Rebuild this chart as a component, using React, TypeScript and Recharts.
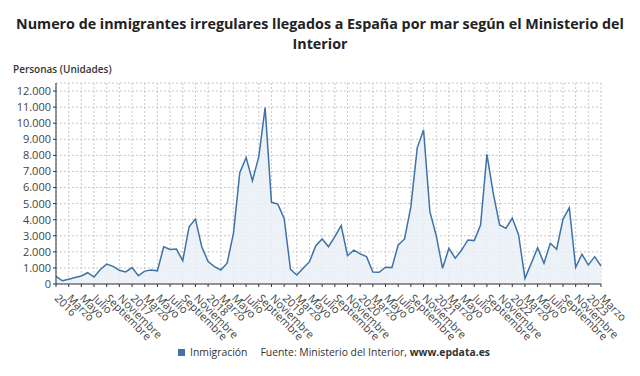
import React from "react";
import { AreaChart, Area, XAxis, YAxis, CartesianGrid } from "recharts";

const years = ["2016", "2017", "2018", "2019", "2020", "2021", "2022", "2023"];
const monthNames = ["Enero", "Febrero", "Marzo", "Abril", "Mayo", "Junio", "Julio", "Agosto", "Septiembre", "Octubre", "Noviembre", "Diciembre"];

const immigration = [
  480, 200, 300, 400, 500, 700, 430, 900, 1240, 1100, 850, 750,
  1020, 520, 800, 870, 820, 2320, 2150, 2170, 1450, 3560, 4040, 2320,
  1390, 1080, 870, 1290, 3150, 6920, 7860, 6420, 7920, 10970, 5080, 4970,
  4080, 910, 560, 980, 1390, 2380, 2800, 2320, 2940, 3630, 1760, 2110,
  1870, 1700, 750, 730, 1040, 1020, 2430, 2800, 4810, 8470, 9580, 4500,
  3010, 980, 2220, 1600, 2110, 2740, 2700, 3670, 8060, 5640, 3670, 3460,
  4100, 3050, 350, 1290, 2260, 1290, 2530, 2160, 4020, 4750, 1040, 1850,
  1180, 1700, 1120,
];

const xTickLabels = [
  "2016", "Marzo", "Mayo", "Julio", "Septiembre", "Noviembre",
  "2017", "Marzo", "Mayo", "Julio", "Septiembre", "Noviembre",
  "2018", "Marzo", "Mayo", "Julio", "Septiembre", "Noviembre",
  "2019", "Marzo", "Mayo", "Julio", "Septiembre", "Noviembre",
  "2020", "Marzo", "Mayo", "Julio", "Septiembre", "Noviembre",
  "2021", "Marzo", "Mayo", "Julio", "Septiembre", "Noviembre",
  "2022", "Marzo", "Mayo", "Julio", "Septiembre", "Noviembre",
  "2023", "Marzo",
];

const yTicks = [0, 1000, 2000, 3000, 4000, 5000, 6000, 7000, 8000, 9000, 10000, 11000, 12000];

const data = immigration.map((v, i) => ({
  idx: i,
  month: `${monthNames[i % 12]} ${years[Math.floor(i / 12)]}`,
  value: v,
}));

const xTicks = xTickLabels.map((_, k) => k * 2);

const FONT = "'Open Sans', 'Noto Sans', sans-serif";
const LINE = "#3f72a6";

const fmt = (v: number) => v.toString().replace(/\B(?=(\d{3})+(?!\d))/g, ".");

const XTick = (props: any) => {
  const { x, y, payload } = props;
  const label = xTickLabels[Math.round(payload.value / 2)];
  return (
    <g transform={`translate(${x},${y})`}>
      <text
        x={0}
        y={0}
        transform="translate(0,8) rotate(45)"
        textAnchor="start"
        dominantBaseline="middle"
        fontSize={11}
        fontFamily={FONT}
        fill="#444"
      >
        {label}
      </text>
    </g>
  );
};

export default function App() {
  return (
    <div style={{ position: "absolute", left: 0, top: 0, width: 640, height: 376, background: "#fff", fontFamily: FONT }}>
      <div
        style={{
          position: "absolute",
          left: 0,
          top: 14,
          width: 640,
          textAlign: "center",
          fontWeight: 700,
          fontSize: 14.3,
          lineHeight: "20px",
          color: "#222",
        }}
      >
        Numero de inmigrantes irregulares llegados a España por mar según el Ministerio del
        <br />
        Interior
      </div>
      <div style={{ position: "absolute", left: 13, top: 62, fontSize: 10, fontWeight: 600, color: "#333" }}>
        Personas (Unidades)
      </div>
      <div style={{ position: "absolute", left: 0, top: 0 }}>
        <AreaChart width={640} height={376} data={data} margin={{ top: 83, right: 39, bottom: 0, left: 0 }}>
          <CartesianGrid stroke="#c8c8c8" strokeDasharray="2 2" />
          <XAxis
            dataKey="idx"
            type="number"
            domain={[0, 86]}
            ticks={xTicks}
            interval={0}
            height={92}
            tick={<XTick />}
            tickLine={{ stroke: "#333" }}
            tickSize={3}
            axisLine={{ stroke: "#333" }}
          />
          <YAxis
            domain={[0, 12500]}
            ticks={yTicks}
            interval={0}
            width={56}
            tickFormatter={fmt}
            tick={{ fontSize: 11, fill: "#444", fontFamily: FONT }}
            tickLine={{ stroke: "#333" }}
            tickSize={3}
            axisLine={{ stroke: "#333" }}
          />
          <Area
            type="linear"
            dataKey="value"
            stroke={LINE}
            strokeWidth={1.5}
            fill="#eaf0f8"
            fillOpacity={0.85}
            isAnimationActive={false}
            dot={false}
            activeDot={false}
          />
        </AreaChart>
      </div>
      <div style={{ position: "absolute", left: 178, top: 345, fontSize: 10.4, color: "#333", display: "flex", alignItems: "center" }}>
        <span style={{ display: "inline-block", width: 7, height: 7, background: LINE, marginRight: 5 }} />
        <span>Inmigración</span>
        <span style={{ marginLeft: 13 }}>
          Fuente: Ministerio del Interior, <b>www.epdata.es</b>
        </span>
      </div>
    </div>
  );
}
